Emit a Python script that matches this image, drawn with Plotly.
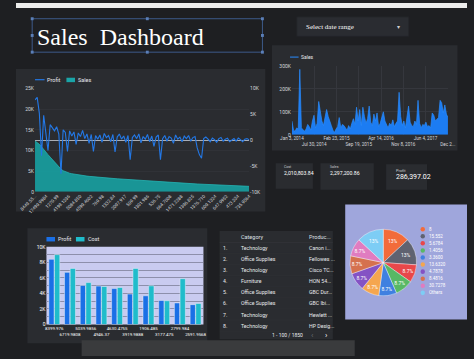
import plotly.graph_objects as go
import pandas as pd

W, H = 474, 359
def X(px): return px / W
def Y(py): return 1 - py / H

# ---------------- data ----------------
# top-left combo chart (sorted by sales, descending)
tl_tick_labels = ["8449.55...", "17499.9984", "1270.99", "4199.1336", "5084.850", "4599.4602",
                  "769.98", "1332.84", "2097.917", "509.99", "1301.986", "536.75", "664.7008",
                  "1471.2288", "1396.825", "1376.710", "609.1324", "647.9952", "473.334", "735.9564"]
tl_sales = [12300, 12000, 11500, 10900, 10200, 9600, 9000, 8400, 7800, 7200,
            6600, 6000, 5500, 5100, 4850, 4650, 4500, 4380, 4270, 4170,
            4080, 4000, 3930, 3860, 3800, 3740, 3680, 3630, 3580, 3530,
            3480, 3430, 3390, 3350, 3310, 3270, 3230, 3190, 3150, 3110,
            3070, 3030, 2990, 2950, 2910, 2870, 2830, 2790, 2750, 2710,
            2670, 2630, 2590, 2550, 2520, 2490, 2460, 2430, 2400, 2370,
            2340, 2310, 2280, 2250, 2220, 2190, 2160, 2130, 2100, 2070,
            2040, 2010, 1980, 1950, 1920, 1890, 1860, 1830, 1800, 1775,
            1750, 1725, 1700, 1675, 1650, 1625, 1600, 1575, 1550, 1525,
            1500, 1480, 1460, 1440, 1420, 1400, 1380, 1360, 1340, 1320]
tl_profit = [7800, 8300, 5200, -3000, 4800, 1500, -2000, 3000, 2500, 1800,
             2600, 1200, -6500, 2000, 1500, -2200, 1800, 800, 1600, -800,
             1400, 700, 1900, 300, 1200, -600, 1100, -2200, 900, 200,
             1000, -400, 1300, 500, 900, -300, 1100, -2300, 600, 1200,
             200, 800, -400, 900, -3800, 500, 1000, 300, 1200, -500,
             700, 200, 1100, -300, 800, -1200, 600, 1000, -3800, 300,
             900, -200, 700, 400, -600, 1000, 200, 600, -300, 800,
             300, 900, -200, 500, 700, -1500, -2800, -3500, 300, 600,
             200, -300, 400, 100, -400, 300, 500, -200, 200, 400,
             -300, 100, 300, -200, 400, 100, -300, 200, 300, 100]

# top-right time series (sales, K)
tr_sales_k = [60, 20, 15, 30, 25, 285, 30, 20, 15, 25,
              45, 35, 20, 60, 85, 30, 50, 145, 90, 60,
              40, 70, 110, 80, 55, 40, 20, 10, 25, 35,
              75, 30, 45, 40, 30, 20, 40, 25, 50, 70,
              45, 120, 60, 110, 40, 120, 80, 50, 70, 125,
              55, 40, 90, 60, 95, 35, 50, 70, 100, 60,
              45, 30, 50, 40, 65, 35, 50, 60, 185, 80,
              40, 60, 30, 70, 125, 55, 40, 35, 60, 45,
              150, 50, 30, 45, 40, 55, 35, 40, 30, 95,
              85, 60, 70, 75, 150, 140, 95, 130, 90, 75]
tr_start, tr_end = "2014-01-03", "2017-12-30"
tr_tick_dates = ["2014-01-03", "2014-07-30", "2015-02-23", "2015-09-19",
                 "2016-04-14", "2016-11-08", "2017-06-04", "2017-12-29"]
tr_tick_labels = ["Jan 3, 2014", "Jul 30, 2014", "Feb 23, 2015", "Sep 19, 2015",
                  "Apr 14, 2016", "Nov 8, 2016", "Jun 4, 2017", "Dec 2..."]

# KPI cards
kpi_labels = ["Cost", "Sales", "Profit"]
kpi_values = [2010803.84, 2297200.86, 286397.02]

# bar chart
bar_labels = ["8399.976", "6719.9808", "5039.9856", "4946.37", "4630.4755",
              "3919.9888", "1906.485", "3177.475", "2799.984", "2591.9568"]
bar_profit = [8400, 6720, 5040, 4946, 4630, 3920, 3700, 3100, 2780, 2560]
bar_cost = [9000, 7230, 5400, 4900, 4770, 7230, 4980, 3060, 5900, 2720]

# table
table_category = ["Technology", "Office Supplies", "Technology", "Furniture",
                  "Office Supplies", "Office Supplies", "Technology", "Technology"]
table_product = ["Canon i...", "Fellowes ...", "Cisco TC...", "HON 54...",
                 "GBC Dur...", "GBC Ibi...", "Hewlett ...", "HP Desig..."]
table_footer = "1 - 100 / 1850"

# pie
pie_labels = ["8", "15.552", "5.6784", "1.4056", "3.3600", "13.6320",
              "4.7878", "8.4816", "30.7278", "Others"]
pie_values = [3, 3, 2, 2, 2, 2, 2, 2, 2, 3]
pie_colors = ["#f26b3a", "#5f6270", "#e8474a", "#58b865", "#3f80e0",
              "#f5a64f", "#8453c4", "#d5714f", "#e07cc0", "#7dcdf5"]

# ---------------- styling ----------------
BG = "#1e1f22"
PANEL = "#2a2c30"
TXT = "#e8eaed"
BLUE = "#2378e6"
TEAL = "#1aa5a8"
CYAN = "#1fbccb"
FONT = "Roboto"

shapes, ann = [], []

def rect(x0, y0, x1, y1, fill, lc=None, lw=0, layer="below"):
    shapes.append(dict(type="rect", xref="paper", yref="paper",
                       x0=X(x0), x1=X(x1), y0=Y(y1), y1=Y(y0),
                       fillcolor=fill, line=dict(width=lw, color=lc or fill), layer=layer))

def hline(x0, x1, y, color, w=1, layer="above"):
    shapes.append(dict(type="line", xref="paper", yref="paper",
                       x0=X(x0), x1=X(x1), y0=Y(y), y1=Y(y),
                       line=dict(color=color, width=w), layer=layer))

def circ(cx, cy, r, color):
    shapes.append(dict(type="circle", xref="paper", yref="paper",
                       x0=X(cx - r), x1=X(cx + r), y0=Y(cy + r), y1=Y(cy - r),
                       fillcolor=color, line=dict(width=0), layer="above"))

def text(px, py, s, size, color=TXT, xanchor="left", yanchor="middle", family=FONT):
    ann.append(dict(xref="paper", yref="paper", x=X(px), y=Y(py), text=s, showarrow=False,
                    xanchor=xanchor, yanchor=yanchor, borderpad=0,
                    font=dict(size=size, color=color, family=family)))

# top light strip
rect(0, 0, 474, 5, "#ececec")

# title with selection frame
text(21, 35, "Sales\u00a0 Dashboard", 24, "#ffffff", family="Liberation Serif")
shapes.append(dict(type="rect", xref="paper", yref="paper", x0=X(17), x1=X(259), y0=Y(50), y1=Y(16),
                   line=dict(color="#3d5a8a", width=1), fillcolor="rgba(0,0,0,0)", layer="above"))
for hx in (17, 138, 259):
    for hy in (16, 33, 50):
        if hx == 138 and hy == 33:
            continue
        rect(hx - 1.5, hy - 1.5, hx + 1.5, hy + 1.5, "#5b7fb8", layer="above")

# date range dropdown
rect(295, 14, 413, 34, "#2a2c31", "#222327", 1)
text(304, 24, "Select date range", 7, "#ffffff", family="Liberation Serif")
text(402, 24, "▾", 6, "#d0d0d0", xanchor="center")

# panels
rect(0, 67, 262, 212, PANEL)
rect(269, 43, 464, 150, PANEL)
rect(273, 163, 312, 189, PANEL)
rect(320, 163, 376, 190, PANEL)
rect(389, 164, 432, 190, PANEL)
rect(12, 229, 201, 346, PANEL)
rect(32, 248, 197, 327, "#c9cbf0")
rect(214, 232, 333, 342, PANEL)
rect(346, 205, 474, 322, "#9fa6dc")
rect(69, 343, 356, 359, "#3a3b3d")

# ---------------- traces ----------------
idx = list(range(len(tl_sales)))
fig = go.Figure()
fig.add_trace(go.Scatter(x=idx, y=tl_sales, mode="lines", fill="tozeroy",
                         line=dict(color="#25b3b3", width=0.8), fillcolor="rgba(24,158,160,0.92)",
                         xaxis="x", yaxis="y", name="Sales"))
fig.add_trace(go.Scatter(x=idx, y=tl_profit, mode="lines",
                         line=dict(color=BLUE, width=1.1), xaxis="x", yaxis="y2", name="Profit"))

tr_dates = pd.date_range(tr_start, tr_end, periods=len(tr_sales_k))
fig.add_trace(go.Scatter(x=tr_dates, y=[v * 1000 for v in tr_sales_k], mode="lines", fill="tozeroy",
                         line=dict(color="#2a8cff", width=0.7), fillcolor="#1c7cf2",
                         xaxis="x3", yaxis="y3", name="Sales"))

fig.add_trace(go.Bar(x=bar_labels, y=bar_profit, marker_color="#1a6fe6", name="Profit",
                     xaxis="x4", yaxis="y4"))
fig.add_trace(go.Bar(x=bar_labels, y=bar_cost, marker_color=CYAN, name="Cost",
                     xaxis="x4", yaxis="y4"))

fig.add_trace(go.Pie(labels=pie_labels, values=pie_values, sort=False, direction="clockwise",
                     rotation=0, marker=dict(colors=pie_colors, line=dict(color="#ffffff", width=0.4)),
                     textinfo="percent", textposition="inside", insidetextorientation="horizontal",
                     textfont=dict(size=5, color="#ffffff", family=FONT),
                     domain=dict(x=[X(351), X(421)], y=[Y(299), Y(229)]), showlegend=False))

# ---------------- legends / labels ----------------
# top-left legend
hline(20, 30, 78, BLUE, 1.2)
text(32, 78, "Profit", 5.5)
rect(53, 76, 62, 80.5, TEAL, layer="above")
text(64, 78, "Sales", 5.5)
# top-right legend
hline(288, 297, 55, "#2a8cff", 1)
text(299, 55, "Sales", 5)
# bar legend
rect(32, 238, 41, 242.5, "#1a6fe6", layer="above")
text(43, 240, "Profit", 5.5)
rect(63, 238, 72, 242.5, CYAN, layer="above")
text(75, 240, "Cost", 5.5)

# KPI cards
kpi_pos = [(281, 166.5, 172.5, 3.5, 5.2), (329, 167, 172.5, 3.5, 5.2), (398, 170.5, 177, 4, 7)]
for (kx, ly, vy, ls, vs), lab, val in zip(kpi_pos, kpi_labels, kpi_values):
    text(kx, ly, lab, ls, "#c8cacd")
    text(kx, vy, f"{val:,.2f}", vs, "#ffffff")

# table
text(235, 238, "Category", 5.5, "#dfe1e5")
text(307, 238, "Produc...", 5.5, "#dfe1e5")
hline(214, 333, 243.5, "#35373c", 0.6)
for k, (c, p) in enumerate(zip(table_category, table_product)):
    ry = 249 + k * 11.3
    text(217, ry, f"{k + 1}.", 5.2)
    text(235, ry, c, 5.2)
    text(307, ry, p, 5.2)
    hline(214, 333, ry + 5.6, "#303236", 0.5)
text(303, 338, table_footer, 5, TXT, xanchor="right")
text(312, 338, "‹", 8, "#6b6e73", xanchor="center")
text(326, 338, "›", 8, "#ffffff", xanchor="center")

# pie legend
for k, (lab, col) in enumerate(zip(pie_labels, pie_colors)):
    ly = 230 + k * 7.2
    circ(427.5, ly, 2.3, col)
    text(432.5, ly, lab, 4.5, "#ffffff")

# ---------------- axes ----------------
tick = dict(size=5, color="#d5d7db", family=FONT)
n = len(tl_sales)
tl_tickvals = [i * (n - 1) / (len(tl_tick_labels) - 1) for i in range(len(tl_tick_labels))]

fig.update_layout(
    width=W, height=H, margin=dict(l=0, r=0, t=0, b=0),
    paper_bgcolor=BG, plot_bgcolor="rgba(0,0,0,0)", showlegend=False,
    font=dict(family=FONT, color=TXT),
    shapes=shapes, annotations=ann,
    barmode="group", bargap=0.28, bargroupgap=0.06,
    xaxis=dict(domain=[X(20), X(245)], anchor="y", range=[0, n - 1],
               tickvals=tl_tickvals, ticktext=tl_tick_labels, tickangle=-45,
               tickfont=dict(size=4.6, color="#d5d7db", family=FONT),
               showgrid=False, zeroline=False, showline=False, ticks=""),
    yaxis=dict(domain=[Y(192), Y(87)], anchor="x", range=[0, 25000],
               tickvals=[0, 5000, 10000, 15000, 20000, 25000],
               ticktext=["0", "5K", "10K", "15K", "20K", "25K"], tickfont=tick,
               showgrid=True, gridcolor="#303237", gridwidth=0.5, zeroline=False, ticks=""),
    yaxis2=dict(overlaying="y", side="right", anchor="x", range=[-10000, 10000],
                tickvals=[-10000, -5000, 0, 5000, 10000],
                ticktext=["-10K", "-5K", "0", "5K", "10K"], tickfont=tick,
                showgrid=False, zeroline=True, zerolinecolor="#a9adb4", zerolinewidth=1, ticks=""),
    xaxis3=dict(domain=[X(290), X(454)], anchor="y3", type="date", range=[tr_start, tr_end],
                tickvals=tr_tick_dates,
                ticktext=[t if i % 2 == 0 else "<br>" + t for i, t in enumerate(tr_tick_labels)],
                tickangle=0, tickfont=dict(size=4.6, color="#d5d7db", family=FONT),
                showgrid=True, gridcolor="#35373d", gridwidth=0.5, zeroline=False, ticks=""),
    yaxis3=dict(domain=[Y(134), Y(64)], anchor="x3", range=[0, 300000],
                tickvals=[0, 100000, 200000, 300000], ticktext=["0", "100K", "200K", "300K"],
                tickfont=tick, showgrid=True, gridcolor="#35373d", gridwidth=0.5,
                zeroline=False, ticks=""),
    xaxis4=dict(domain=[X(32), X(197)], anchor="y4", type="category",
                tickvals=bar_labels,
                ticktext=[t if i % 2 == 0 else "<br>" + t for i, t in enumerate(bar_labels)],
                tickangle=0, tickfont=dict(size=4.4, color="#ffffff", family=FONT),
                showgrid=False, zeroline=False, ticks=""),
    yaxis4=dict(domain=[Y(327), Y(248)], anchor="x4", range=[0, 10000],
                tickvals=[0, 2000, 4000, 6000, 8000, 10000],
                ticktext=["0", "2K", "4K", "6K", "8K", "10K"],
                tickfont=dict(size=5, color="#ffffff", family=FONT),
                showgrid=True, gridcolor="#8d8fab", gridwidth=0.6,
                minor=dict(dtick=1000, showgrid=True, gridcolor="#8d8fab", gridwidth=0.6),
                zeroline=False, ticks=""),
)

fig.write_html("out.html", config={"displayModeBar": False},
               post_script="document.body.style.margin='0';document.body.style.overflow='hidden';")
